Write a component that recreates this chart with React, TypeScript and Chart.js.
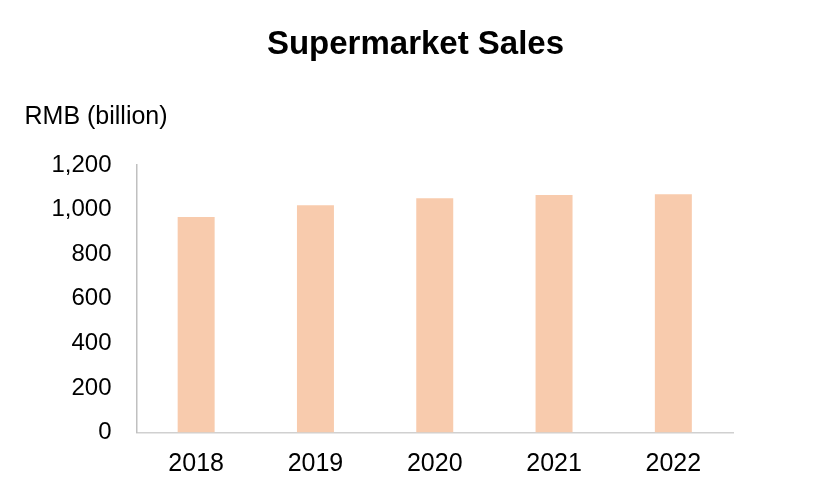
import React, { useEffect, useRef } from "react";
import { Chart, registerables } from "chart.js";

Chart.register(...registerables);

const categories = ["2018", "2019", "2020", "2021", "2022"];
const sales = [967, 1020, 1051, 1065, 1069];
const yTicks = [0, 200, 400, 600, 800, 1000, 1200];
const chartTitle = "Supermarket Sales";
const unitLabel = "RMB (billion)";

const FONT = "'Liberation Sans', Arial, sans-serif";

export default function App() {
  const ref = useRef<HTMLCanvasElement | null>(null);

  useEffect(() => {
    if (!ref.current) return;
    const textPlugin = {
      id: "headerText",
      afterDraw(chart: any) {
        const ctx = chart.ctx;
        ctx.save();
        ctx.fillStyle = "#000";
        ctx.textBaseline = "alphabetic";
        ctx.font = `bold 33px ${FONT}`;
        ctx.textAlign = "center";
        ctx.fillText(chartTitle, chart.width / 2, 53.5);
        ctx.font = `25px ${FONT}`;
        ctx.textAlign = "left";
        ctx.fillText(unitLabel, 24.5, 123.5);
        ctx.restore();
      },
    };
    const chart = new Chart(ref.current, {
      type: "bar",
      data: {
        labels: categories,
        datasets: [
          {
            data: sales,
            backgroundColor: "#f8cbad",
            borderWidth: 0,
            categoryPercentage: 1,
            barPercentage: 0.31,
          },
        ],
      },
      options: {
        responsive: false,
        animation: false,
        layout: { padding: { left: 0, right: 98, top: 165, bottom: 0 } },
        plugins: {
          legend: { display: false },
          tooltip: { enabled: false },
          title: { display: false },
        },
        scales: {
          x: {
            grid: { display: false, drawTicks: false },
            border: { display: true, color: "#d0d0d0", width: 1.5 },
            ticks: {
              color: "#000",
              font: { family: FONT, size: 25 },
              padding: 17,
            },
            afterFit: (s: any) => {
              s.height = 66.5;
            },
          },
          y: {
            min: 0,
            max: 1200,
            afterBuildTicks: (s: any) => {
              s.ticks = yTicks.map((v) => ({ value: v }));
            },
            grid: { display: false, drawTicks: false },
            border: { display: true, color: "#c0c0c0", width: 1.5 },
            ticks: {
              color: "#000",
              font: { family: FONT, size: 24 },
              padding: 25,
              callback: (v: any) => Number(v).toLocaleString("en-US"),
            },
            afterFit: (s: any) => {
              s.width = 136.5;
            },
          },
        },
      },
      plugins: [textPlugin],
    });
    return () => chart.destroy();
  }, []);

  return (
    <div style={{ position: "absolute", left: 0, top: 0, width: 831, height: 499, background: "#fff" }}>
      <canvas ref={ref} width={831} height={499} style={{ display: "block" }} />
    </div>
  );
}
